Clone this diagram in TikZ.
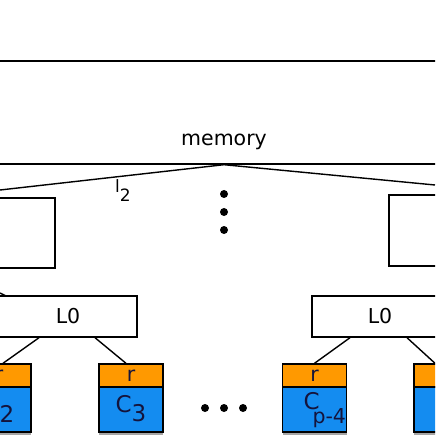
\documentclass[tikz,border=0pt]{standalone}
\usepackage{fontspec}
\setmainfont{DejaVu Sans}
\definecolor{corebg}{RGB}{20,140,240}
\definecolor{regbg}{RGB}{255,153,0}
\definecolor{coretext}{RGB}{20,20,60}
\begin{document}
\begin{tikzpicture}[x=1pt,y=-1pt,
    box/.style={draw, line width=1.4pt, inner sep=0pt},
    reg/.style={box, fill=regbg, minimum width=64pt, minimum height=23pt, text=coretext},
    core/.style={box, fill=corebg, minimum width=64pt, minimum height=45pt, text=coretext},
    big/.style={font=\fontsize{20.5}{24}\selectfont},
    clabel/.style={font=\fontsize{23}{27}\selectfont, text=coretext},
    link/.style={line width=1.4pt}]
    \useasboundingbox (0,0) rectangle (435,435);
    \clip (0,0) rectangle (435,435);
    % memory
    \node[box, minimum width=520pt, minimum height=103pt] (mem) at (224,112.5) {};
    \node[big] (memlbl) at (224,142) {memory};
    % L1 caches
    \node[box, minimum width=95pt, minimum height=70pt] (l1a) at (7.5,233) {};
    \node[box, minimum width=95pt, minimum height=71pt] (l1b) at (436.5,230.5) {};
    \draw[link] (mem.south) -- (0,190);
    \draw[link] (mem.south) -- (435,185);
    \node[font=\fontsize{17}{19}\selectfont] (lbl) at (123,191) {l\raisebox{-9pt}{2}};
    \foreach \y in {194,212,230} \fill (224,\y) circle (4pt);
    % L0 caches
    \node[box, big, minimum width=138pt, minimum height=41pt] (l0a) at (68,316.5) {L0};
    \node[box, big, minimum width=136pt, minimum height=41pt] (l0b) at (380,316.5) {L0};
    \draw[link] (0,293) -- (6,296);
    % cores
    \foreach \n/\x in {a/-1, b/131, c/314.5, d/446} {
        \fill[gray!70] (\x-32,432) rectangle (\x+32,435);
        \node[reg, big] (r\n) at (\x,375.5) {r};
        \node[core] (c\n) at (\x,409.5) {};
    }
    \node[clabel] (ca) at (-1,409) {C\raisebox{-9pt}{2}};
    \node[clabel] (cb) at (131,409) {C\raisebox{-9pt}{3}};
    \node[clabel, anchor=west] (cc) at (300,401) {C};
    \node[big, text=coretext, anchor=west] (ccs) at (309,418) {p-4};
    \draw[link] ([xshift=-29pt]l0a.south) -- ([xshift=4pt]ra.north);
    \draw[link] ([xshift=27pt]l0a.south) -- ([xshift=-5pt]rb.north);
    \draw[link] ([xshift=-30pt]l0b.south) -- (rc.north);
    \draw[link] ([xshift=27pt]l0b.south) -- ([xshift=-11pt]rd.north);
    \foreach \x in {205,224,243} \fill (\x,408) circle (4pt);
\end{tikzpicture}
\end{document}
